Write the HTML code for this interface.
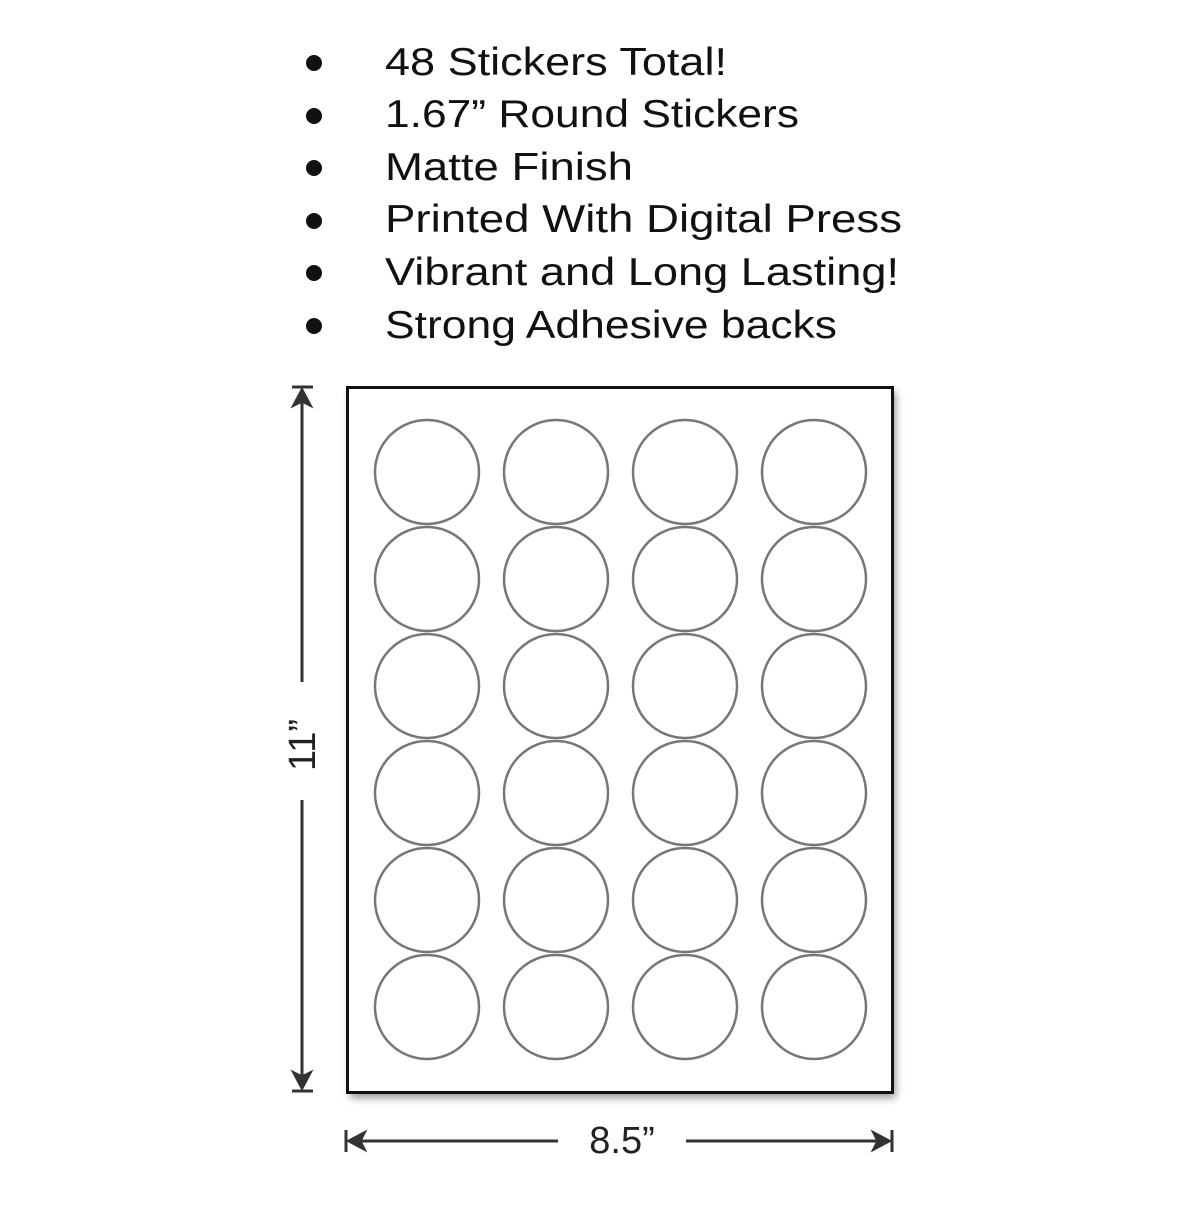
<!DOCTYPE html>
<html><head><meta charset="utf-8"><style>html,body{margin:0;padding:0;background:#fff}</style></head>
<body>
<svg width="1200" height="1200" viewBox="0 0 1200 1200" xmlns="http://www.w3.org/2000/svg">
<defs><filter id="sh" x="-5%" y="-5%" width="110%" height="110%"><feGaussianBlur stdDeviation="4"/></filter></defs>
<g font-family="Liberation Sans, sans-serif" font-size="39" fill="#111">
<circle cx="314" cy="63" r="8"/><text x="385" y="75" textLength="342" lengthAdjust="spacingAndGlyphs">48 Stickers Total!</text>
<circle cx="314" cy="116" r="8"/><text x="385" y="127" textLength="414" lengthAdjust="spacingAndGlyphs">1.67” Round Stickers</text>
<circle cx="314" cy="168" r="8"/><text x="385" y="180" textLength="248" lengthAdjust="spacingAndGlyphs">Matte Finish</text>
<circle cx="314" cy="221" r="8"/><text x="385" y="232" textLength="517" lengthAdjust="spacingAndGlyphs">Printed With Digital Press</text>
<circle cx="314" cy="273" r="8"/><text x="385" y="285" textLength="514" lengthAdjust="spacingAndGlyphs">Vibrant and Long Lasting!</text>
<circle cx="314" cy="326" r="8"/><text x="385" y="338" textLength="452" lengthAdjust="spacingAndGlyphs">Strong Adhesive backs</text>
</g>
<rect x="350" y="392" width="546" height="706" fill="#999" filter="url(#sh)"/>
<rect x="347.5" y="387.5" width="545" height="705" fill="#fff" stroke="#111" stroke-width="3"/>
<g fill="none" stroke="#777" stroke-width="2.5">
<circle cx="427" cy="472" r="52"/><circle cx="556" cy="472" r="52"/><circle cx="685" cy="472" r="52"/><circle cx="814" cy="472" r="52"/>
<circle cx="427" cy="579" r="52"/><circle cx="556" cy="579" r="52"/><circle cx="685" cy="579" r="52"/><circle cx="814" cy="579" r="52"/>
<circle cx="427" cy="686" r="52"/><circle cx="556" cy="686" r="52"/><circle cx="685" cy="686" r="52"/><circle cx="814" cy="686" r="52"/>
<circle cx="427" cy="793" r="52"/><circle cx="556" cy="793" r="52"/><circle cx="685" cy="793" r="52"/><circle cx="814" cy="793" r="52"/>
<circle cx="427" cy="900" r="52"/><circle cx="556" cy="900" r="52"/><circle cx="685" cy="900" r="52"/><circle cx="814" cy="900" r="52"/>
<circle cx="427" cy="1007" r="52"/><circle cx="556" cy="1007" r="52"/><circle cx="685" cy="1007" r="52"/><circle cx="814" cy="1007" r="52"/>
</g>
<g stroke="#333" stroke-width="3" fill="#333">
<line x1="292" y1="387" x2="313" y2="387"/><line x1="292" y1="1091" x2="313" y2="1091"/>
<line x1="302" y1="390" x2="302" y2="682"/><line x1="302" y1="800" x2="302" y2="1088"/>
<path d="M302 390 L294 405 L302 401 L310 405 Z"/><path d="M302 1088 L294 1073 L302 1077 L310 1073 Z"/>
<line x1="346" y1="1130" x2="346" y2="1152"/><line x1="892" y1="1130" x2="892" y2="1152"/>
<line x1="349" y1="1141" x2="558" y2="1141"/><line x1="686" y1="1141" x2="889" y2="1141"/>
<path d="M349 1141 L364 1133 L360 1141 L364 1149 Z"/><path d="M889 1141 L874 1133 L878 1141 L874 1149 Z"/>
</g>
<text x="622" y="1153" text-anchor="middle" font-family="Liberation Sans, sans-serif" font-size="38" fill="#222">8.5”</text>
<text transform="translate(315,745) rotate(-90)" text-anchor="middle" font-family="Liberation Sans, sans-serif" font-size="38" fill="#222">11”</text>
</svg>
</body></html>
